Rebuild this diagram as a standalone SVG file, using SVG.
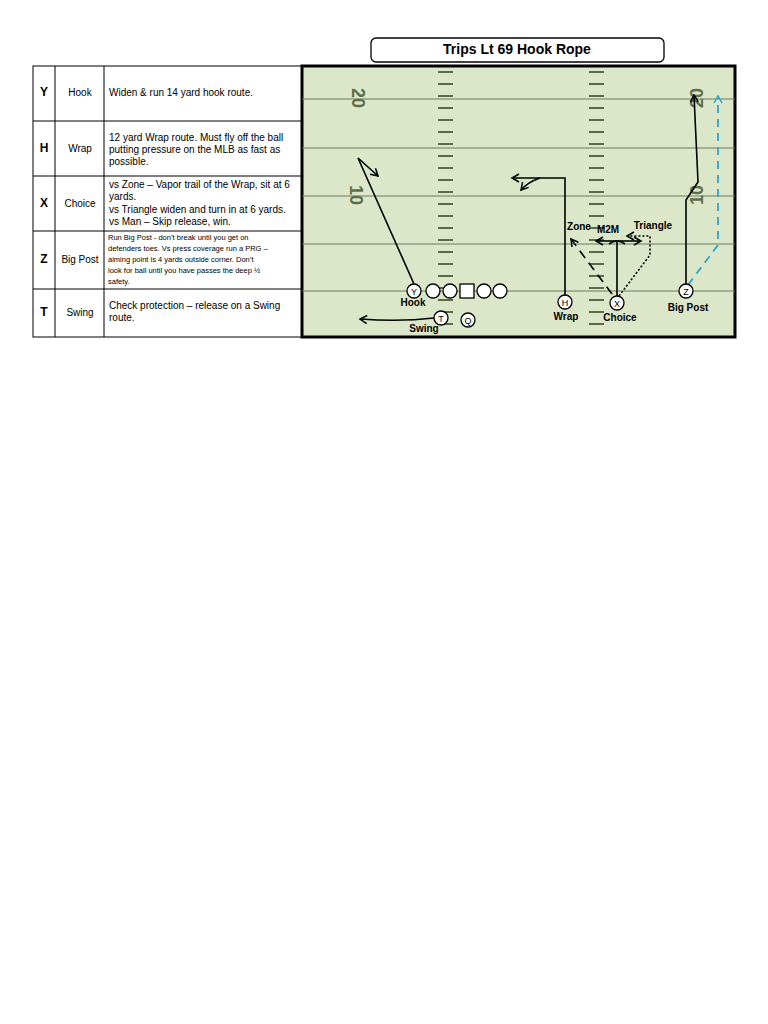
<svg xmlns="http://www.w3.org/2000/svg" width="768" height="1024" viewBox="0 0 768 1024">
<defs>
<marker id="ah" markerWidth="10" markerHeight="10" refX="8" refY="5" orient="auto" markerUnits="userSpaceOnUse"><path d="M1,1 L8,5 L1,9" fill="none" stroke="#000" stroke-width="1.5"/></marker>
<marker id="ahb" markerWidth="10" markerHeight="10" refX="8" refY="5" orient="auto" markerUnits="userSpaceOnUse"><path d="M1,1 L8,5 L1,9" fill="none" stroke="#2aa6d6" stroke-width="1.5"/></marker>
</defs>
<style>
.t{font-family:"Liberation Sans",Arial,sans-serif;fill:#000}
.cell{fill:#fff;stroke:#000;stroke-width:1}
.yl{stroke:#6d7a5c;stroke-width:1}
.hm{stroke:#5b6b45;stroke-width:2}
.num{font-family:"Liberation Sans",Arial,sans-serif;font-size:18px;font-weight:bold;fill:#5e6e4a}
.pl{fill:#fff;stroke:#000;stroke-width:1.3}
.rt{fill:none;stroke:#000;stroke-width:1.6}
.lb{font-family:"Liberation Sans",Arial,sans-serif;font-size:10px;font-weight:bold;fill:#000}
</style>
<rect width="768" height="1024" fill="#fff"/>
<g id="title"><rect x="371" y="38" width="293" height="24" rx="5" fill="#fff" stroke="#000" stroke-width="1.3"/><text class="t" x="517" y="54" font-size="14" font-weight="bold" text-anchor="middle">Trips Lt 69 Hook Rope</text></g>
<g id="table">
<rect class="cell" x="33" y="66" width="269" height="271"/>
<line x1="55" y1="66" x2="55" y2="337" stroke="#000"/><line x1="104" y1="66" x2="104" y2="337" stroke="#000"/>
<line x1="33" y1="121" x2="302" y2="121" stroke="#000"/><line x1="33" y1="176" x2="302" y2="176" stroke="#000"/><line x1="33" y1="231" x2="302" y2="231" stroke="#000"/><line x1="33" y1="289" x2="302" y2="289" stroke="#000"/>
<g class="t" font-size="10">
<text x="44" y="96" font-size="12" font-weight="bold" text-anchor="middle">Y</text><text x="80" y="96" text-anchor="middle">Hook</text><text x="109" y="96">Widen &amp; run 14 yard hook route.</text>
<text x="44" y="152" font-size="12" font-weight="bold" text-anchor="middle">H</text><text x="80" y="152" text-anchor="middle">Wrap</text>
<text x="109" y="141">12 yard Wrap route.  Must fly off the ball</text><text x="109" y="153">putting pressure on the MLB as fast as</text><text x="109" y="165">possible.</text>
<text x="44" y="207" font-size="12" font-weight="bold" text-anchor="middle">X</text><text x="80" y="207" text-anchor="middle">Choice</text>
<text x="109" y="188">vs Zone – Vapor trail of the Wrap, sit at 6</text><text x="109" y="200">yards.</text><text x="109" y="213">vs Triangle widen and turn in at 6 yards.</text><text x="109" y="225">vs Man – Skip release, win.</text>
<text x="44" y="263" font-size="12" font-weight="bold" text-anchor="middle">Z</text><text x="80" y="263" text-anchor="middle">Big Post</text>
<g font-size="7.5"><text x="108" y="240">Run Big Post - don’t break until you get on</text><text x="108" y="251">defenders toes. Vs press coverage run a PRG –</text><text x="108" y="262">aiming point is 4 yards outside corner. Don’t</text><text x="108" y="273">look for ball until you have passes the deep ½</text><text x="108" y="284">safety.</text></g>
<text x="44" y="316" font-size="12" font-weight="bold" text-anchor="middle">T</text><text x="80" y="316" text-anchor="middle">Swing</text>
<text x="109" y="309">Check protection – release on a Swing</text><text x="109" y="321">route.</text>
</g></g>
<g id="field">
<rect x="302" y="66" width="433" height="271" fill="#dbe7c8" stroke="#000" stroke-width="3"/>
<line class="yl" x1="302" y1="99" x2="735" y2="99"/><line class="yl" x1="302" y1="148" x2="735" y2="148"/><line class="yl" x1="302" y1="196" x2="735" y2="196"/><line class="yl" x1="302" y1="244" x2="735" y2="244"/><line class="yl" x1="302" y1="291" x2="735" y2="291"/>
<g class="hm">
<path d="M438 72h15M438 84h15M438 96h15M438 108h15M438 120h15M438 132h15M438 144h15M438 156h15M438 168h15M438 180h15M438 192h15M438 204h15M438 216h15M438 228h15M438 240h15M438 252h15M438 264h15M438 276h15M438 288h15M438 300h15M438 312h15M438 324h15"/>
<path d="M589 72h15M589 84h15M589 96h15M589 108h15M589 120h15M589 132h15M589 144h15M589 156h15M589 168h15M589 180h15M589 192h15M589 204h15M589 216h15M589 228h15M589 240h15M589 252h15M589 264h15M589 276h15M589 288h15M589 300h15M589 312h15M589 324h15"/>
</g>
<text class="num" transform="translate(352,98) rotate(90)" text-anchor="middle">20</text>
<text class="num" transform="translate(350,195) rotate(90)" text-anchor="middle">10</text>
<text class="num" transform="translate(703,98) rotate(-90)" text-anchor="middle">20</text>
<text class="num" transform="translate(703,195) rotate(-90)" text-anchor="middle">10</text>
</g>
<g id="connectors">
<path class="rt" d="M414 284 L358 158 L378 176" marker-end="url(#ah)"/>
<path class="rt" d="M565 295 V178 H512" marker-end="url(#ah)"/>
<path class="rt" d="M540 178 Q528 182 521 190" marker-end="url(#ah)"/>
<path class="rt" d="M617 296 V241"/>
<path class="rt" d="M617 241 H596" marker-end="url(#ah)"/>
<path class="rt" d="M617 241 H641" marker-end="url(#ah)"/>
<path class="rt" d="M609 244 Q617 238 625 244"/>
<path class="rt" d="M612 294 L571 239" stroke-dasharray="9,6" marker-end="url(#ah)"/>
<path class="rt" d="M619 296 L650 255 V236 H627" stroke-dasharray="2,2" stroke-width="1.3" marker-end="url(#ah)"/>
<path class="rt" d="M686 284 V200 L698 182 L694 95" marker-end="url(#ah)"/>
<path fill="none" stroke="#2aa6d6" stroke-width="1.8" stroke-dasharray="8,6" d="M688 285 L718 245 V96" marker-end="url(#ahb)"/>
<path class="rt" d="M434 318 Q400 322 360 319" marker-end="url(#ah)"/>
</g>
<g id="players" class="t">
<g id="Y"><circle class="pl" cx="414" cy="291" r="7"/><text x="414" y="294.5" font-size="9" text-anchor="middle">Y</text></g>
<circle class="pl" cx="433" cy="291" r="7"/><circle class="pl" cx="450" cy="291" r="7"/>
<rect class="pl" x="460" y="284" width="14" height="14"/>
<circle class="pl" cx="484" cy="291" r="7"/><circle class="pl" cx="500" cy="291" r="7"/>
<g id="T"><circle class="pl" cx="441" cy="318" r="7"/><text x="441" y="321.5" font-size="9" text-anchor="middle">T</text></g>
<g id="Q"><circle class="pl" cx="468" cy="320" r="7"/><text x="468" y="323.5" font-size="9" text-anchor="middle">Q</text></g>
<g id="H"><circle class="pl" cx="565" cy="302" r="7"/><text x="565" y="305.5" font-size="9" text-anchor="middle">H</text></g>
<g id="X"><circle class="pl" cx="617" cy="303" r="7"/><text x="617" y="306.5" font-size="9" text-anchor="middle">X</text></g>
<g id="Z"><circle class="pl" cx="686" cy="291" r="7"/><text x="686" y="294.5" font-size="9" text-anchor="middle">Z</text></g>
</g>
<g id="labels">
<text class="lb" x="413" y="306" text-anchor="middle">Hook</text>
<text class="lb" x="424" y="332" text-anchor="middle">Swing</text>
<text class="lb" x="566" y="320" text-anchor="middle">Wrap</text>
<text class="lb" x="620" y="321" text-anchor="middle">Choice</text>
<text class="lb" x="688" y="311" text-anchor="middle">Big Post</text>
<text class="lb" x="579" y="230" text-anchor="middle">Zone</text>
<text class="lb" x="608" y="233" text-anchor="middle">M2M</text>
<text class="lb" x="653" y="229" text-anchor="middle">Triangle</text>
</g>
</svg>
